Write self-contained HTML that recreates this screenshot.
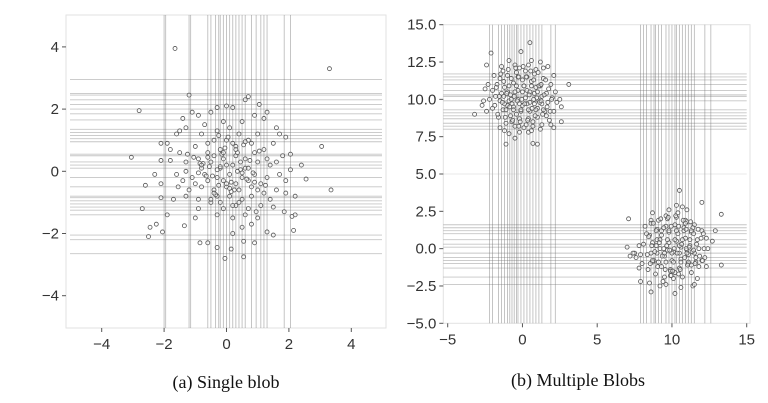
<!DOCTYPE html>
<html><head><meta charset="utf-8">
<style>
html,body{margin:0;padding:0;background:#fff;}
svg{display:block;}
.tick{font-family:"Liberation Sans",sans-serif;font-size:15px;fill:#333;}
.cap{font-family:"Liberation Serif",serif;font-size:18px;fill:#111;}
</style></head>
<body>
<svg id="chart" width="768" height="403" viewBox="0 0 768 403"></svg>
<script>
// ---- Panel A data ----
const aTicksX = [-4,-2,0,2,4];
const aTicksY = [-4,-2,0,2,4];
const aVLines = [-2.0,-1.95,-1.2,-1.15,-0.6,-0.5,-0.35,-0.25,-0.2,-0.1,0,0.1,0.2,0.3,0.4,0.5,0.6,0.8,0.95,1.1,1.2,1.3,1.85,2.05];
const aHLines = [2.95,2.5,2.45,2.3,2.15,2.0,1.85,1.65,1.35,1.25,1.15,1.05,0.95,0.55,0.5,0.3,0.2,0.1,-0.2,-0.5,-0.8,-0.85,-0.95,-1.05,-1.15,-1.25,-1.4,-2.05,-2.2,-2.65];
const aPointsX = [-1.65,3.3,-2.8,-3.05,3.05,2.4,2.55,3.35,-2.7,-2.5,-2.45,-2.25,-2.05,2.15,-1.2,0.7,0.6,1.05,0.0,0.2,-0.3,
-0.5,-0.9,-1.1,-1.4,-1.3,-0.8,-0.4,0.1,0.5,0.9,1.2,1.3,1.6,1.7,1.9,1.5,1.2,0.8,0.3,-0.2,-0.6,-1.0,-1.5,-1.9,-2.1,-1.8,-2.1,-1.8,-1.3,-0.9,-0.5,-0.1,0.2,0.6,1.0,1.4,1.8,2.05,2.05,1.7,1.3,0.9,0.5,0.1,-0.3,-0.7,-1.1,-1.6,-2.3,-2.6,-2.1,-1.55,-1.2,-0.8,-0.4,0.0,0.4,0.8,1.2,1.6,1.9,2.2,1.85,1.5,1.1,0.7,0.3,-0.1,-0.5,-0.9,-1.3,-1.7,-2.1,-1.9,-1.0,-0.3,0.2,0.6,1.0,1.3,1.5,0.8,0.5,0.2,-0.3,-0.6,-0.85,-1.35,0.15,-0.05,0.55,0.9,0.55,2.1,2.2,1.9,1.6,0.0,0.4,-0.1,-0.3,0.7,1.0,-1.6,-1.5,-0.6,-0.2,0.3,0.7,-0.6,0.1,0.5,-0.3,-0.8,0.9,1.1,-1.0,-0.4,0.2,-0.7,0.6,-0.1,0.3,1.3,-1.3,0.0,-0.2,1.4,-1.4,0.8,-0.9,
-0.2,0.15,0.35,-0.45,0.65,-0.75,0.25,-0.15,0.45,-0.35,0.05,0.85,-0.55,1.05,-1.05,0.4,-0.25,0.75,-0.65,0.15,-0.85,0.55,1.25,-1.25,0.95,
-0.05,0.35,-0.4,0.7,-0.8,0.1,0.5,-0.25,0.9,-0.6,0.2,-0.1,0.6,-0.5,0.3,1.0,-0.9,0.0,0.45,-0.3];
const aPointsY = [3.95,3.3,1.95,0.45,0.8,0.2,-0.25,-0.6,-1.2,-2.1,-1.8,-1.7,-1.95,-1.9,2.45,2.4,2.3,2.15,2.1,2.05,2.05,
1.9,1.8,1.9,1.7,1.4,1.2,1.0,1.4,1.6,1.8,1.7,1.9,1.4,1.2,1.1,0.9,0.7,0.9,0.8,0.7,0.6,0.8,0.6,0.9,0.9,0.7,0.35,0.35,0.3,0.4,0.3,0.4,0.2,0.4,0.3,0.2,0.5,0.55,0.05,-0.1,-0.2,-0.1,-0.2,-0.1,-0.2,-0.1,-0.2,-0.1,-0.1,-0.45,-0.4,-0.5,-0.6,-0.5,-0.6,-0.5,-0.6,-0.5,-0.7,-0.6,-0.7,-0.8,-1.3,-1.15,-1.1,-1.2,-1.1,-1.2,-1.0,-0.9,-0.8,-0.9,-0.85,-1.4,-1.5,-1.4,-1.5,-1.4,-1.5,-1.95,-2.05,-1.7,-1.8,-2.0,-2.45,-2.3,-2.3,-1.75,-2.5,-2.8,-2.75,-2.3,-2.25,-1.45,-1.4,-0.3,0.3,1.0,1.2,1.6,1.3,1.0,1.2,1.2,1.3,0.9,0.1,0.5,-0.3,-0.3,-0.8,-0.9,-0.8,0.1,0.6,-0.4,-0.4,0.5,0.9,1.5,0.1,-0.3,-0.4,0.4,0.0,0.2,-1.0,-0.9,-0.3,-0.8,-1.2,
0.15,-0.35,0.6,-0.15,-0.25,0.25,-0.6,0.55,0.05,-0.75,1.1,-0.05,0.15,0.65,0.45,-1.0,-0.45,0.35,-0.15,-0.65,0.25,0.85,-0.45,0.55,-1.3,
0.75,0.0,-0.7,0.1,0.2,-0.55,-0.05,1.15,-0.35,0.45,-1.1,0.6,0.95,-0.9,0.7,-0.6,-0.05,-0.4,0.3,0.05];

// ---- Panel B data ----
const bTicksX = [-5,0,5,10,15];
const bTicksY = [-5.0,-2.5,0.0,2.5,5.0,7.5,10.0,12.5,15.0];
const bVLines = [-2.2,-2.0,-1.6,-1.4,-1.2,-1.0,-0.85,-0.7,-0.55,-0.4,-0.3,-0.1,0.1,0.3,0.5,0.7,0.9,1.1,1.3,1.9,2.2,7.9,8.1,8.3,8.6,8.8,8.9,9.1,9.3,9.6,9.8,10.0,10.2,10.3,10.5,10.7,10.9,11.1,11.3,11.5,12.2,12.6];
const bHLines = [11.7,11.5,11.3,11.0,10.6,10.3,10.2,9.9,9.3,9.1,8.9,8.7,8.4,8.2,8.0,5.0,1.6,1.4,1.2,1.0,0.6,0.3,0.1,-0.3,-0.6,-0.8,-1.0,-1.3,-1.9,-2.4];
const bTopX = [-2.1,0.5,-0.1,-2.4,-1.9,-2.5,-2.6,-3.2,-2.4,-1.2,-1.1,-0.5,0.7,1.0,0.4,2.1,2.6,2.5,3.1,2.1,1.7,1.2,0.6,-0.9,-0.5,-1.5,-1.0,-0.4,0.2,0.8,1.4,1.9,2.2,2.3,2.1,1.8,1.3,0.7,0.1,-0.5,-1.1,-1.6,-2.0,-2.2,-2.0,-1.7,-1.2,-0.6,0.0,0.6,1.2,1.6,1.7,1.5,1.0,0.4,-0.2,-0.8,-1.3,-1.5,-1.4,-0.8,-0.3,0.3,0.8,1.1,1.0,0.5,-0.1,-0.6,-0.9,-0.3,0.2,0.5,0.0,-0.4,0.9,-1.0,1.3,0.1,-0.7,1.6,-1.8,2.0,0.3,-1.3,0.9,-2.3,1.9,-1.5,0.6,-0.9,1.4,2.6,-2.7,-0.2,0.4,-1.4,1.2,-0.2,
-1.0,-0.5,0.0,0.5,1.0,-1.2,-0.7,-0.2,0.3,0.8,1.3,-0.9,-0.4,0.1,0.6,1.1,-1.1,-0.6,-0.1,0.4,0.9,1.4,-0.3,0.7,
-1.75,-1.25,-0.75,-0.25,0.25,0.75,1.25,1.75,-1.55,-1.05,-0.55,-0.05,0.45,0.95,1.45,1.95,-1.85,-1.35,-0.85,-0.35,0.15,0.65,1.15,1.65,-1.65,-1.15,-0.65,-0.15,0.35,0.85,1.35,1.85,-1.45,-0.95,-0.45,0.05,0.55,1.05,1.55,-0.25,0.25,-0.75,0.75,-1.25,1.25];
const bTopY = [13.1,13.8,13.2,12.3,11.6,10.7,9.9,9.0,9.2,7.9,7.0,7.4,7.05,7.0,7.8,8.1,8.5,10.0,11.0,11.6,12.2,12.5,12.6,12.6,12.3,11.4,11.6,11.8,11.9,11.7,11.4,11.0,10.5,9.8,9.2,8.6,8.3,8.2,8.1,8.2,8.4,8.8,9.4,10.0,10.6,11.0,10.8,11.1,11.3,11.2,10.9,10.4,9.8,9.2,8.8,8.7,8.7,8.9,9.3,9.9,10.4,10.3,10.6,10.6,10.4,9.9,9.4,9.2,9.2,9.5,9.9,10.0,10.1,9.8,9.6,9.0,10.8,9.6,10.2,10.9,8.5,8.9,10.2,10.1,11.5,11.9,12.0,11.0,8.3,8.1,7.9,7.7,12.1,9.5,9.6,12.1,12.3,12.2,8.0,7.8,
10.5,10.5,10.5,10.5,10.5,9.7,9.7,9.7,9.7,9.7,9.7,10.9,10.9,10.9,10.9,10.9,9.3,9.3,9.3,9.3,9.3,9.3,11.5,8.5,
10.8,11.2,11.4,11.5,11.5,11.3,11.0,10.7,10.2,10.4,10.2,10.0,10.3,10.1,10.3,10.0,9.6,9.8,9.5,9.9,9.7,9.4,9.8,9.5,9.0,8.8,8.6,8.5,8.6,8.9,9.0,9.2,11.7,12.0,12.1,12.2,11.9,11.8,11.3,8.2,8.3,10.0,10.0,10.2,9.9];
const bBotX = [7.1,7.0,7.2,7.6,7.9,8.6,9.6,10.2,10.6,11.4,12.3,13.3,12.9,13.3,12.0,10.5,10.3,9.8,8.7,11.0,8.2,8.6,7.8,7.5,8.6,9.1,9.7,10.3,10.9,11.5,12.0,12.3,12.4,12.2,11.8,11.3,10.7,10.1,9.5,8.9,8.4,8.0,7.9,8.1,8.5,9.0,9.6,10.2,10.8,11.3,11.7,11.8,11.6,11.1,10.5,9.9,9.3,8.8,8.6,8.7,9.3,9.8,10.4,10.9,11.2,11.1,10.6,10.0,9.5,9.2,9.8,10.3,10.6,10.1,9.7,11.0,9.0,11.4,10.2,9.4,11.7,8.3,12.1,10.4,8.7,11.0,7.8,12.0,8.5,10.7,9.2,11.5,12.7,7.4,9.9,10.5,8.7,11.3,9.6,
9.2,9.7,10.2,10.7,11.2,9.0,9.5,10.0,10.5,11.0,11.5,9.3,9.8,10.3,10.8,11.3,9.1,9.6,10.1,10.6,11.1,11.6,9.9,10.9,
8.45,8.95,9.45,9.95,10.45,10.95,11.45,11.95,8.65,9.15,9.65,10.15,10.65,11.15,11.65,12.15,8.35,8.85,9.35,9.85,10.35,10.85,11.35,11.85,8.55,9.05,9.55,10.05,10.55,11.05,11.55,12.05,8.75,9.25,9.75,10.25,10.75,11.25,11.75,9.95,10.45,9.45,10.95,8.95,11.45];
const bBotY = [2.0,0.1,-0.5,-0.6,-2.2,-2.9,-2.4,-3.0,-2.6,-2.5,-1.2,-1.1,1.2,2.3,3.1,3.9,2.9,2.6,2.4,2.6,1.5,1.9,0.2,-0.3,1.7,1.9,2.0,2.1,1.9,1.6,1.2,0.7,0.0,-0.6,-1.2,-1.6,-1.9,-2.0,-1.9,-1.7,-1.4,-1.0,-0.4,0.3,0.9,1.3,1.5,1.6,1.4,1.1,0.6,0.0,-0.6,-1.0,-1.3,-1.4,-1.2,-0.8,-0.3,0.4,0.9,1.1,1.0,0.7,0.2,-0.4,-0.7,-0.8,-0.5,0.0,0.4,0.5,0.1,-0.2,-0.1,-0.1,0.6,1.4,-1.6,-2.2,-2.0,1.0,1.0,2.4,-0.9,1.8,-1.3,-0.8,-2.3,2.8,-2.5,-2.4,0.5,-0.3,-1.8,0.2,-0.8,-1.1,2.2,
0.6,0.6,0.6,0.6,0.6,-0.3,-0.3,-0.3,-0.3,-0.3,-0.3,1.2,1.2,1.2,1.2,1.2,-0.9,-0.9,-0.9,-0.9,-0.9,-0.9,-1.5,1.7,
0.8,1.2,1.4,1.5,1.5,1.3,1.0,0.7,0.2,0.4,0.2,0.0,0.3,0.1,0.3,0.0,-0.4,-0.2,-0.5,-0.1,-0.3,-0.6,-0.2,-0.5,-1.0,-1.2,-1.4,-1.5,-1.4,-1.1,-1.0,-0.8,1.7,2.0,2.1,2.2,1.9,1.8,1.3,-1.8,-1.7,0.0,0.0,0.2,-0.1];

const NS = 'http://www.w3.org/2000/svg';
const svg = document.getElementById('chart');
function mk(tag, attrs, parent){
  const e = document.createElementNS(NS, tag);
  for (const k in attrs) e.setAttribute(k, attrs[k]);
  (parent||svg).appendChild(e);
  return e;
}

function panel(cfg){
  const g = mk('g', {});
  
  
  const sx = v => cfg.x0 + (v - cfg.xmin) * cfg.kx;
  const sy = v => cfg.y0 - (v - cfg.ymin) * cfg.ky;
  const fr = mk('rect', {x:cfg.fx1, y:cfg.fy1, width:cfg.fx2-cfg.fx1, height:cfg.fy2-cfg.fy1, fill:'#fff', stroke:'#e2e2e2', 'stroke-width':1}, g);
  
  
  cfg.vlines.forEach(v => {
    const l = mk('line', {x1:sx(v), x2:sx(v), y1:cfg.fy1, y2:cfg.fy2, stroke:'rgba(110,110,110,0.45)', 'stroke-width':0.9}, g);
    
    
  });
  cfg.hlines.forEach(v => {
    const l = mk('line', {x1:cfg.hx1, x2:cfg.hx2, y1:sy(v), y2:sy(v), stroke: v===5.0 ? 'rgba(180,180,180,0.3)' : 'rgba(110,110,110,0.4)', 'stroke-width':0.9}, g);
    
    
  });
  cfg.sets.forEach(s => {
    s[0].forEach((xv, i) => {
      const c = mk('circle', {cx:sx(xv), cy:sy(s[1][i]), r:2, fill:'rgba(255,255,255,0.5)', stroke:'#555', 'stroke-width':0.8}, g);
      
      
    });
  });
  cfg.ticksX.forEach(v => {
    mk('line', {x1:sx(v), x2:sx(v), y1:cfg.fy2, y2:cfg.fy2+4, stroke:'#555', 'stroke-width':1}, g);
    const t = mk('text', {x:sx(v), y:cfg.fy2+21, 'text-anchor':'middle', class:'tick'}, g);
    t.textContent = cfg.fmt(v);
    
    
  });
  cfg.ticksY.forEach(v => {
    mk('line', {x1:cfg.fx1-4, x2:cfg.fx1, y1:sy(v), y2:sy(v), stroke:'#555', 'stroke-width':1}, g);
    const t = mk('text', {x:cfg.fx1-7, y:sy(v)+5, 'text-anchor':'end', class:'tick'}, g);
    t.textContent = cfg.fmtY(v);
    
    
  });
  const cap = mk('text', {x:cfg.capX, y:cfg.capY, 'text-anchor':'middle', class:'cap'}, g);
  cap.textContent = cfg.caption;
  
  
}
const minus = s => String(s).replace('-', '\u2212');

panel({name:'panel-single-blob', xmin:-4, ymin:-4, x0:101.7, y0:295.7, kx:31.2, ky:31.1,
  fx1:66, fx2:386, fy1:15, fy2:328, hx1:70, hx2:382,
  vlines:aVLines, hlines:aHLines, sets:[[aPointsX,aPointsY]],
  ticksX:aTicksX, ticksY:aTicksY, fmt:v=>minus(v), fmtY:v=>minus(v),
  caption:'(a) Single blob', capX:226, capY:388});

panel({name:'panel-multiple-blobs', xmin:-5, ymin:-5, x0:447.7, y0:323.3, kx:14.95, ky:14.93,
  fx1:443.3, fx2:750, fy1:24.7, fy2:323.3, hx1:443.3, hx2:746.7,
  vlines:bVLines, hlines:bHLines, sets:[[bTopX,bTopY],[bBotX,bBotY]],
  ticksX:bTicksX, ticksY:bTicksY, fmt:v=>minus(v), fmtY:v=>minus(v.toFixed(1)),
  caption:'(b) Multiple Blobs', capX:578, capY:386});
</script>
</body></html>
